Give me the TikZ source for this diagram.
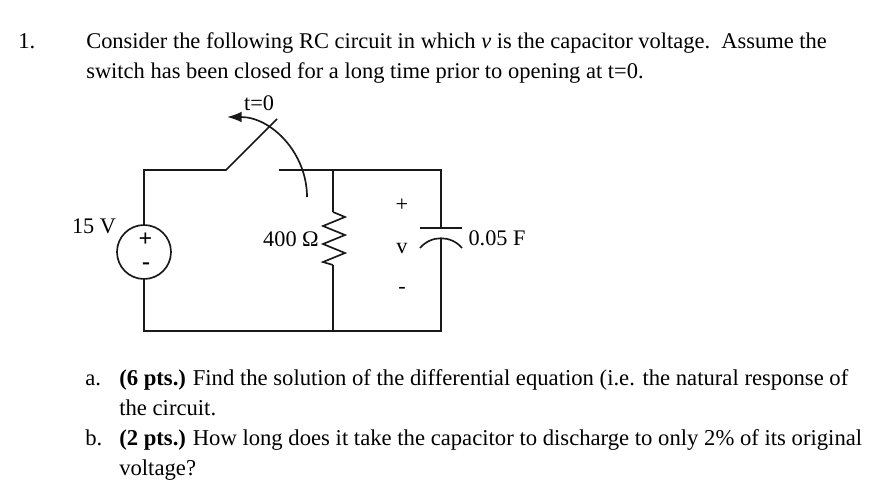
\documentclass[tikz,border=0pt]{standalone}
\usepackage{fontspec}
\setmainfont{Liberation Serif}
\usetikzlibrary{arrows.meta,positioning,calc}
\newcommand{\introsize}{\fontsize{16.85pt}{20pt}\selectfont}
\newcommand{\asksize}{\fontsize{17pt}{20pt}\selectfont}
\newcommand{\labelsize}{\fontsize{16.7pt}{18pt}\selectfont}
\tikzset{%
  wireLine/.style={%
    line width=1.25pt,
    color=black!90
  },
  sweepArrow/.style={%
    -{Latex[length=11pt,width=8pt]},
    line width=1.25pt,
    color=black!90
  },
  bodyText/.style={%
    anchor=base west,
    inner sep=0pt,
    font=\asksize
  },
  partLabel/.style={%
    anchor=base,
    inner sep=0pt,
    font=\labelsize
  },
  signMark/.style={%
    inner sep=0pt,
    font=\bfseries\fontsize{18pt}{18pt}\selectfont
  },
  sourceCircle/.style={%
    circle,
    draw=black!90,
    line width=1.25pt,
    fill=white,
    minimum size=40.5pt,
    inner sep=0pt
  }
}
\begin{document}
\begin{tikzpicture}[x=0.75pt,y=-0.75pt]
  \useasboundingbox (0,0) rectangle (887,493);

  % problem text
  \node[bodyText] (num) at (18,48) {1.};
  \node[bodyText,font=\introsize] (introA) at (86,48) {Consider the following RC circuit in which \textit{v} is the capacitor voltage.\hspace{0.5em}Assume the};
  \node[bodyText,font=\introsize] (introB) at (86,78) {switch has been closed for a long time prior to opening at t=0.};

  % circuit corners and contacts
  \coordinate (topLeft) at (144,170);
  \coordinate (hinge) at (226,170);
  \coordinate (bladeEnd) at (277,119);
  \coordinate (contact) at (279,170);
  \coordinate (topRes) at (333,170);
  \coordinate (topRight) at (441,170);
  \coordinate (botLeft) at (144,331);
  \coordinate (botRes) at (333,331);
  \coordinate (botRight) at (441,331);
  \coordinate (resIn) at (333,212);
  \coordinate (resOut) at (333,265);
  \coordinate (capTop) at (441,228);
  \coordinate (capBot) at (441,238);
  \coordinate (sweepStart) at (307,197);

  \node[sourceCircle] (src) at (144,252) {};
  \node[signMark] (srcPlus) at (145.5,240) {+};
  \node[signMark] (srcMinus) at (146,266) {-};

  % wires
  \draw[wireLine] (src) -- (topLeft) -- (hinge) -- (bladeEnd);
  \draw[wireLine] (contact) -- (topRight) -- (capTop);
  \draw[wireLine] (src) -- (botLeft) -- (botRight) -- (capBot);
  \draw[wireLine] (topRes) -- (resIn);
  \draw[wireLine] (resOut) -- (botRes);
  \draw[wireLine] (resIn) -- ++(12,5) -- ++(-22,9) -- ++(22,9) -- ++(-22,9) -- ++(22,9) -- ++(-22,9) -- (resOut);

  % capacitor
  \draw[wireLine] ($(capTop)+(-21,0)$) -- ($(capTop)+(21,0)$);
  \draw[wireLine] ($(capBot)+(-21,10)$) .. controls ($(capBot)+(-10,-3)$) and ($(capBot)+(10,-3)$) .. ($(capBot)+(21,10)$);

  % switch travel
  \draw[sweepArrow] (sweepStart) arc[start angle=0,end angle=90,radius=60pt];

  % labels
  \node[partLabel] (tZero) at (259,110) {t=0};
  \node[partLabel] (srcVal) at (94,233) {15 V};
  \node[partLabel] (resVal) at (291,246) {400 Ω};
  \node[partLabel] (capVal) at (497,245) {0.05 F};
  \node[partLabel] (vPlus) at (402,211) {+};
  \node[partLabel] (vName) at (402,253) {v};
  \node[partLabel] (vMinus) at (402,293) {-};

  % questions
  \node[bodyText] (partA) at (85,385) {a.};
  \node[bodyText] (qA) at (119,385) {\textbf{(6 pts.)}\hspace{0.3em}Find the solution of the differential equation (i.e. the natural response of};
  \node[bodyText] (qAb) at (119,415) {the circuit.};
  \node[bodyText] (partB) at (85,445) {b.};
  \node[bodyText] (qB) at (119,445) {\textbf{(2 pts.)}\hspace{0.3em}How long does it take the capacitor to discharge to only 2\% of its original};
  \node[bodyText] (qBb) at (119,475) {voltage?};
\end{tikzpicture}
\end{document}
